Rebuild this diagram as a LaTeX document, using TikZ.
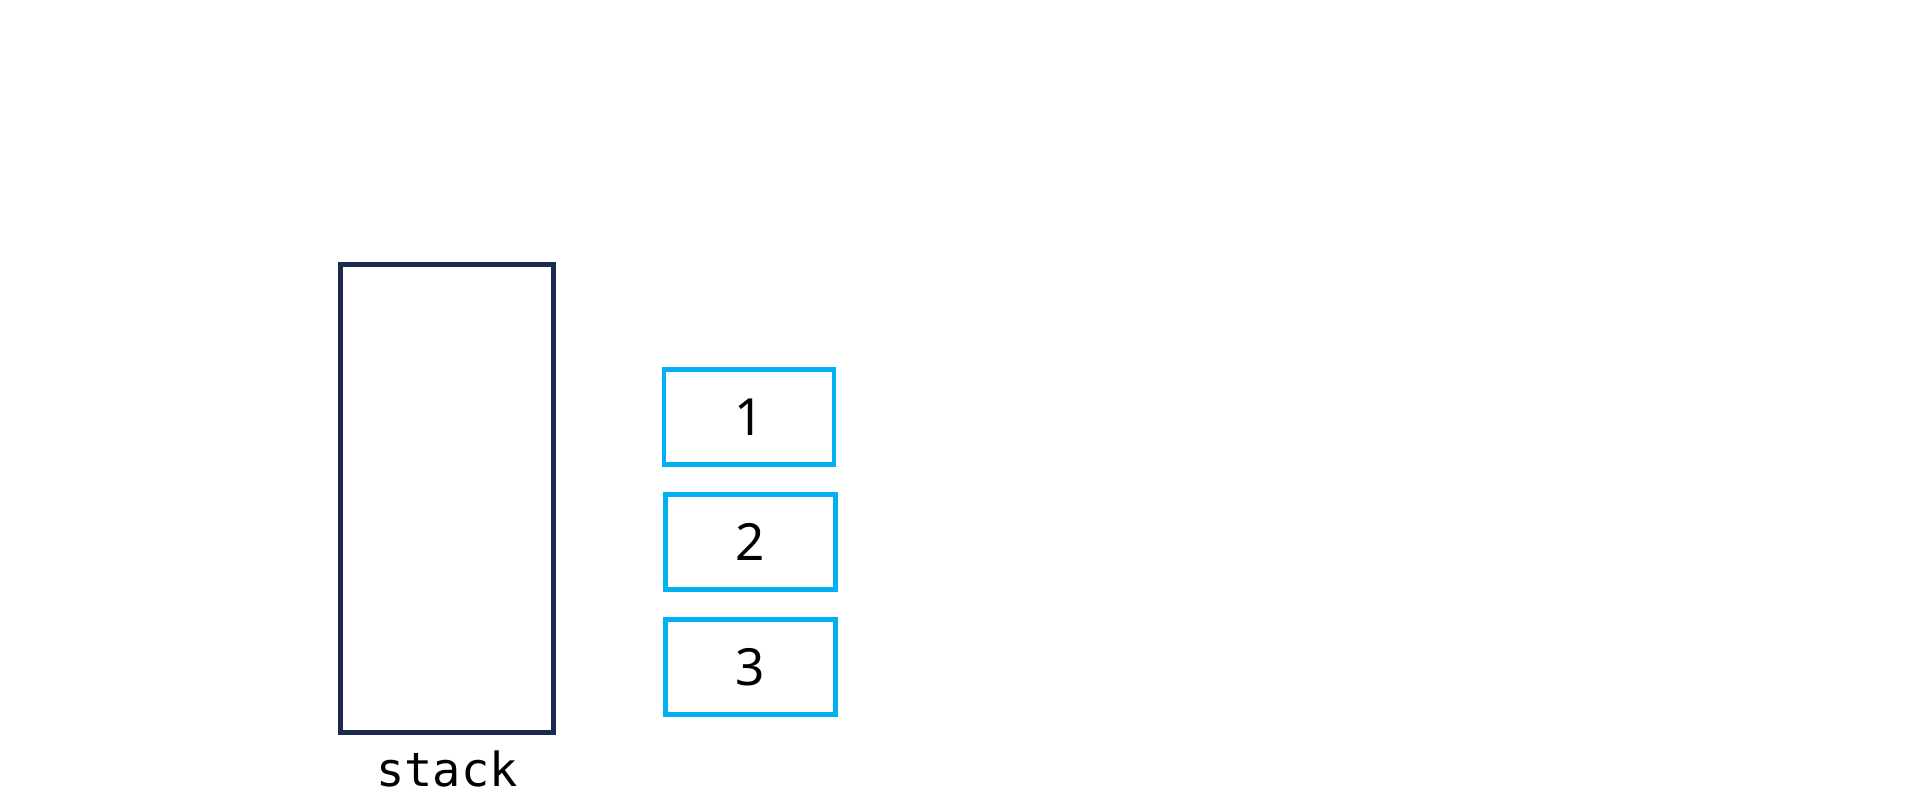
\documentclass[tikz,border=0pt]{standalone}
\usepackage{fontspec}
\setmainfont{Noto Sans}
\setmonofont{DejaVu Sans Mono}
\definecolor{navy}{HTML}{1B2B4F}
\definecolor{cyanb}{HTML}{00B0F0}
\begin{document}
\begin{tikzpicture}[x=0.02cm,y=-0.02cm,
  item/.style={draw=cyanb,line width=0.08cm,minimum width=2.8cm,minimum height=1.56cm,inner sep=0pt,font=\fontsize{24}{28}\selectfont},
  stackbox/.style={draw=navy,line width=0.08cm,minimum width=3.5cm,minimum height=7.7cm,inner sep=0pt}]
\useasboundingbox (0,0) rectangle (1568,660);
\node[stackbox] (stack) at (368,410.5) {};
\node[font=\ttfamily\fontsize{22}{26}\selectfont,anchor=north] (lbl) at (368,612) {stack};
\node[item] (n1) at (616.5,343) {1};
\node[item] (n2) at (617.5,446) {2};
\node[item] (n3) at (617.5,549) {3};
\end{tikzpicture}
\end{document}
